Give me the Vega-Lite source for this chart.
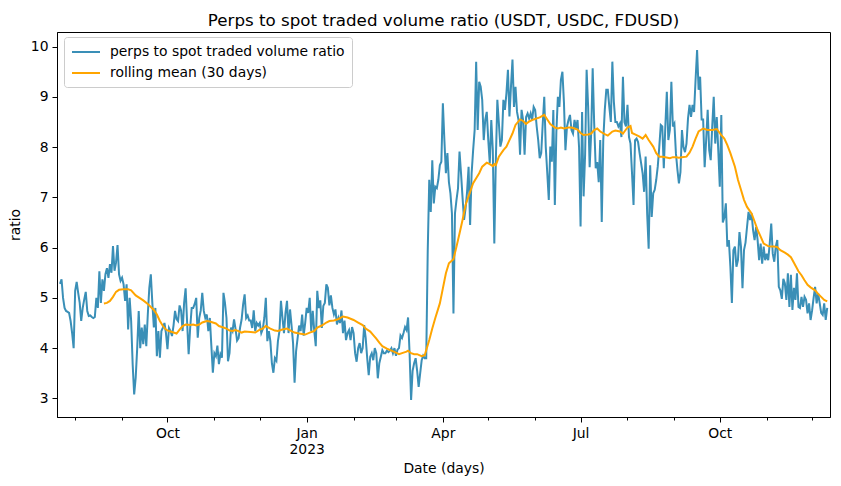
{
"$schema":"https://vega.github.io/schema/vega-lite/v6.json",
"width":773,"height":385,
"autosize":{"type":"none"},
"padding":{"left":57,"top":32,"right":11,"bottom":69},
"background":"white",
"title":{"text":"Perps to spot traded volume ratio (USDT, USDC, FDUSD)","font":"DejaVu Sans","fontSize":16.7,"fontWeight":"normal","color":"black","anchor":"middle","offset":8,"baseline":"alphabetic","dy":19},
"config":{"view":{"stroke":"black","strokeWidth":1},"font":"DejaVu Sans","axis":{"labelFont":"DejaVu Sans","titleFont":"DejaVu Sans"},"legend":{"labelFont":"DejaVu Sans"}},
"datasets":{
"ratio":[
{"date":"2022-07-22","ratio":5.28},{"date":"2022-07-23","ratio":5.37},{"date":"2022-07-24","ratio":5.0},{"date":"2022-07-25","ratio":4.8},{"date":"2022-07-26","ratio":4.74},{"date":"2022-07-27","ratio":4.72},{"date":"2022-07-28","ratio":4.7},{"date":"2022-07-29","ratio":4.54},{"date":"2022-07-30","ratio":4.3},{"date":"2022-07-31","ratio":4.0},
{"date":"2022-08-01","ratio":5.14},{"date":"2022-08-02","ratio":5.32},{"date":"2022-08-03","ratio":5.1},{"date":"2022-08-04","ratio":4.9},{"date":"2022-08-05","ratio":4.54},{"date":"2022-08-06","ratio":4.8},{"date":"2022-08-07","ratio":4.97},{"date":"2022-08-08","ratio":5.12},{"date":"2022-08-09","ratio":4.74},{"date":"2022-08-10","ratio":4.64},{"date":"2022-08-11","ratio":4.65},{"date":"2022-08-12","ratio":4.62},{"date":"2022-08-13","ratio":4.6},{"date":"2022-08-14","ratio":4.62},{"date":"2022-08-15","ratio":5.0},{"date":"2022-08-16","ratio":4.8},{"date":"2022-08-17","ratio":5.53},{"date":"2022-08-18","ratio":4.9},{"date":"2022-08-19","ratio":5.37},{"date":"2022-08-20","ratio":5.14},{"date":"2022-08-21","ratio":5.47},{"date":"2022-08-22","ratio":5.59},{"date":"2022-08-23","ratio":5.4},{"date":"2022-08-24","ratio":5.67},{"date":"2022-08-25","ratio":5.5},{"date":"2022-08-26","ratio":6.03},{"date":"2022-08-27","ratio":5.54},{"date":"2022-08-28","ratio":5.7},{"date":"2022-08-29","ratio":6.05},{"date":"2022-08-30","ratio":5.47},{"date":"2022-08-31","ratio":5.34},
{"date":"2022-09-01","ratio":5.4},{"date":"2022-09-02","ratio":5.27},{"date":"2022-09-03","ratio":4.94},{"date":"2022-09-04","ratio":5.27},{"date":"2022-09-05","ratio":4.37},{"date":"2022-09-06","ratio":5.0},{"date":"2022-09-07","ratio":4.54},{"date":"2022-09-08","ratio":3.68},{"date":"2022-09-09","ratio":3.08},{"date":"2022-09-10","ratio":3.41},{"date":"2022-09-11","ratio":4.0},{"date":"2022-09-12","ratio":4.74},{"date":"2022-09-13","ratio":4.0},{"date":"2022-09-14","ratio":4.41},{"date":"2022-09-15","ratio":4.08},{"date":"2022-09-16","ratio":4.47},{"date":"2022-09-17","ratio":4.04},{"date":"2022-09-18","ratio":4.67},{"date":"2022-09-19","ratio":5.2},{"date":"2022-09-20","ratio":5.47},{"date":"2022-09-21","ratio":4.9},{"date":"2022-09-22","ratio":4.41},{"date":"2022-09-23","ratio":4.8},{"date":"2022-09-24","ratio":3.84},{"date":"2022-09-25","ratio":4.34},{"date":"2022-09-26","ratio":3.81},{"date":"2022-09-27","ratio":4.34},{"date":"2022-09-28","ratio":4.41},{"date":"2022-09-29","ratio":4.5},{"date":"2022-09-30","ratio":4.3},
{"date":"2022-10-01","ratio":3.98},{"date":"2022-10-02","ratio":4.4},{"date":"2022-10-03","ratio":4.34},{"date":"2022-10-04","ratio":4.24},{"date":"2022-10-05","ratio":4.45},{"date":"2022-10-06","ratio":4.74},{"date":"2022-10-07","ratio":4.58},{"date":"2022-10-08","ratio":4.54},{"date":"2022-10-09","ratio":4.85},{"date":"2022-10-10","ratio":4.75},{"date":"2022-10-11","ratio":4.34},{"date":"2022-10-12","ratio":4.9},{"date":"2022-10-13","ratio":5.19},{"date":"2022-10-14","ratio":4.5},{"date":"2022-10-15","ratio":3.88},{"date":"2022-10-16","ratio":4.4},{"date":"2022-10-17","ratio":4.8},{"date":"2022-10-18","ratio":4.8},{"date":"2022-10-19","ratio":4.88},{"date":"2022-10-20","ratio":5.0},{"date":"2022-10-21","ratio":4.21},{"date":"2022-10-22","ratio":4.6},{"date":"2022-10-23","ratio":4.75},{"date":"2022-10-24","ratio":5.1},{"date":"2022-10-25","ratio":4.74},{"date":"2022-10-26","ratio":4.6},{"date":"2022-10-27","ratio":4.67},{"date":"2022-10-28","ratio":4.34},{"date":"2022-10-29","ratio":4.6},{"date":"2022-10-30","ratio":4.05},{"date":"2022-10-31","ratio":3.51},
{"date":"2022-11-01","ratio":3.9},{"date":"2022-11-02","ratio":3.84},{"date":"2022-11-03","ratio":4.05},{"date":"2022-11-04","ratio":3.68},{"date":"2022-11-05","ratio":3.88},{"date":"2022-11-06","ratio":3.81},{"date":"2022-11-07","ratio":5.1},{"date":"2022-11-08","ratio":4.9},{"date":"2022-11-09","ratio":4.6},{"date":"2022-11-10","ratio":3.74},{"date":"2022-11-11","ratio":3.9},{"date":"2022-11-12","ratio":4.41},{"date":"2022-11-13","ratio":4.34},{"date":"2022-11-14","ratio":4.57},{"date":"2022-11-15","ratio":4.38},{"date":"2022-11-16","ratio":4.15},{"date":"2022-11-17","ratio":4.2},{"date":"2022-11-18","ratio":4.41},{"date":"2022-11-19","ratio":4.57},{"date":"2022-11-20","ratio":4.87},{"date":"2022-11-21","ratio":5.07},{"date":"2022-11-22","ratio":4.6},{"date":"2022-11-23","ratio":4.65},{"date":"2022-11-24","ratio":4.55},{"date":"2022-11-25","ratio":4.55},{"date":"2022-11-26","ratio":4.4},{"date":"2022-11-27","ratio":4.75},{"date":"2022-11-28","ratio":4.34},{"date":"2022-11-29","ratio":4.5},{"date":"2022-11-30","ratio":4.45},
{"date":"2022-12-01","ratio":4.5},{"date":"2022-12-02","ratio":4.3},{"date":"2022-12-03","ratio":4.38},{"date":"2022-12-04","ratio":4.6},{"date":"2022-12-05","ratio":5.0},{"date":"2022-12-06","ratio":4.14},{"date":"2022-12-07","ratio":4.34},{"date":"2022-12-08","ratio":4.14},{"date":"2022-12-09","ratio":3.7},{"date":"2022-12-10","ratio":3.51},{"date":"2022-12-11","ratio":3.8},{"date":"2022-12-12","ratio":3.75},{"date":"2022-12-13","ratio":4.14},{"date":"2022-12-14","ratio":4.34},{"date":"2022-12-15","ratio":4.94},{"date":"2022-12-16","ratio":4.6},{"date":"2022-12-17","ratio":4.3},{"date":"2022-12-18","ratio":4.7},{"date":"2022-12-19","ratio":4.94},{"date":"2022-12-20","ratio":4.3},{"date":"2022-12-21","ratio":4.77},{"date":"2022-12-22","ratio":4.45},{"date":"2022-12-23","ratio":4.1},{"date":"2022-12-24","ratio":3.31},{"date":"2022-12-25","ratio":3.94},{"date":"2022-12-26","ratio":4.2},{"date":"2022-12-27","ratio":4.45},{"date":"2022-12-28","ratio":4.34},{"date":"2022-12-29","ratio":4.67},{"date":"2022-12-30","ratio":4.25},{"date":"2022-12-31","ratio":4.5},
{"date":"2023-01-01","ratio":4.8},{"date":"2023-01-02","ratio":4.7},{"date":"2023-01-03","ratio":5.0},{"date":"2023-01-04","ratio":4.34},{"date":"2023-01-05","ratio":4.74},{"date":"2023-01-06","ratio":4.35},{"date":"2023-01-07","ratio":4.04},{"date":"2023-01-08","ratio":5.14},{"date":"2023-01-09","ratio":4.8},{"date":"2023-01-10","ratio":4.95},{"date":"2023-01-11","ratio":4.4},{"date":"2023-01-12","ratio":4.84},{"date":"2023-01-13","ratio":4.9},{"date":"2023-01-14","ratio":5.27},{"date":"2023-01-15","ratio":5.2},{"date":"2023-01-16","ratio":4.85},{"date":"2023-01-17","ratio":5.05},{"date":"2023-01-18","ratio":4.8},{"date":"2023-01-19","ratio":4.67},{"date":"2023-01-20","ratio":4.77},{"date":"2023-01-21","ratio":4.47},{"date":"2023-01-22","ratio":4.6},{"date":"2023-01-23","ratio":4.5},{"date":"2023-01-24","ratio":4.75},{"date":"2023-01-25","ratio":4.3},{"date":"2023-01-26","ratio":4.55},{"date":"2023-01-27","ratio":4.16},{"date":"2023-01-28","ratio":4.3},{"date":"2023-01-29","ratio":4.36},{"date":"2023-01-30","ratio":4.16},{"date":"2023-01-31","ratio":4.42},
{"date":"2023-02-01","ratio":4.3},{"date":"2023-02-02","ratio":3.9},{"date":"2023-02-03","ratio":3.73},{"date":"2023-02-04","ratio":4.0},{"date":"2023-02-05","ratio":4.1},{"date":"2023-02-06","ratio":3.9},{"date":"2023-02-07","ratio":4.0},{"date":"2023-02-08","ratio":4.46},{"date":"2023-02-09","ratio":4.2},{"date":"2023-02-10","ratio":3.8},{"date":"2023-02-11","ratio":3.46},{"date":"2023-02-12","ratio":3.83},{"date":"2023-02-13","ratio":3.9},{"date":"2023-02-14","ratio":3.76},{"date":"2023-02-15","ratio":4.0},{"date":"2023-02-16","ratio":3.9},{"date":"2023-02-17","ratio":3.4},{"date":"2023-02-18","ratio":3.7},{"date":"2023-02-19","ratio":3.83},{"date":"2023-02-20","ratio":3.96},{"date":"2023-02-21","ratio":3.9},{"date":"2023-02-22","ratio":3.9},{"date":"2023-02-23","ratio":3.95},{"date":"2023-02-24","ratio":3.92},{"date":"2023-02-25","ratio":3.95},{"date":"2023-02-26","ratio":4.0},{"date":"2023-02-27","ratio":3.9},{"date":"2023-02-28","ratio":4.0},
{"date":"2023-03-01","ratio":3.85},{"date":"2023-03-02","ratio":3.97},{"date":"2023-03-03","ratio":4.0},{"date":"2023-03-04","ratio":4.25},{"date":"2023-03-05","ratio":4.2},{"date":"2023-03-06","ratio":4.3},{"date":"2023-03-07","ratio":4.42},{"date":"2023-03-08","ratio":4.36},{"date":"2023-03-09","ratio":4.61},{"date":"2023-03-10","ratio":3.9},{"date":"2023-03-11","ratio":2.97},{"date":"2023-03-12","ratio":3.55},{"date":"2023-03-13","ratio":3.7},{"date":"2023-03-14","ratio":3.8},{"date":"2023-03-15","ratio":3.55},{"date":"2023-03-16","ratio":3.23},{"date":"2023-03-17","ratio":3.5},{"date":"2023-03-18","ratio":3.76},{"date":"2023-03-19","ratio":3.85},{"date":"2023-03-20","ratio":3.8},{"date":"2023-03-21","ratio":3.8},{"date":"2023-03-22","ratio":5.94},{"date":"2023-03-23","ratio":7.35},{"date":"2023-03-24","ratio":6.71},{"date":"2023-03-25","ratio":7.74},{"date":"2023-03-26","ratio":6.88},{"date":"2023-03-27","ratio":7.21},{"date":"2023-03-28","ratio":7.18},{"date":"2023-03-29","ratio":7.35},{"date":"2023-03-30","ratio":7.64},{"date":"2023-03-31","ratio":7.71},
{"date":"2023-04-01","ratio":8.87},{"date":"2023-04-02","ratio":8.14},{"date":"2023-04-03","ratio":7.48},{"date":"2023-04-04","ratio":7.88},{"date":"2023-04-05","ratio":7.3},{"date":"2023-04-06","ratio":7.08},{"date":"2023-04-07","ratio":6.68},{"date":"2023-04-08","ratio":4.69},{"date":"2023-04-09","ratio":6.68},{"date":"2023-04-10","ratio":6.95},{"date":"2023-04-11","ratio":7.18},{"date":"2023-04-12","ratio":7.91},{"date":"2023-04-13","ratio":7.48},{"date":"2023-04-14","ratio":7.0},{"date":"2023-04-15","ratio":6.55},{"date":"2023-04-16","ratio":6.78},{"date":"2023-04-17","ratio":7.11},{"date":"2023-04-18","ratio":7.61},{"date":"2023-04-19","ratio":6.45},{"date":"2023-04-20","ratio":7.48},{"date":"2023-04-21","ratio":7.94},{"date":"2023-04-22","ratio":8.34},{"date":"2023-04-23","ratio":9.7},{"date":"2023-04-24","ratio":8.34},{"date":"2023-04-25","ratio":9.3},{"date":"2023-04-26","ratio":9.2},{"date":"2023-04-27","ratio":8.94},{"date":"2023-04-28","ratio":8.14},{"date":"2023-04-29","ratio":8.54},{"date":"2023-04-30","ratio":8.7},
{"date":"2023-05-01","ratio":8.14},{"date":"2023-05-02","ratio":7.68},{"date":"2023-05-03","ratio":8.54},{"date":"2023-05-04","ratio":7.94},{"date":"2023-05-05","ratio":6.08},{"date":"2023-05-06","ratio":7.74},{"date":"2023-05-07","ratio":8.94},{"date":"2023-05-08","ratio":8.48},{"date":"2023-05-09","ratio":8.01},{"date":"2023-05-10","ratio":8.14},{"date":"2023-05-11","ratio":8.94},{"date":"2023-05-12","ratio":8.74},{"date":"2023-05-13","ratio":9.07},{"date":"2023-05-14","ratio":9.54},{"date":"2023-05-15","ratio":8.61},{"date":"2023-05-16","ratio":9.2},{"date":"2023-05-17","ratio":9.74},{"date":"2023-05-18","ratio":8.8},{"date":"2023-05-19","ratio":9.2},{"date":"2023-05-20","ratio":8.7},{"date":"2023-05-21","ratio":8.54},{"date":"2023-05-22","ratio":7.85},{"date":"2023-05-23","ratio":8.74},{"date":"2023-05-24","ratio":8.54},{"date":"2023-05-25","ratio":7.85},{"date":"2023-05-26","ratio":8.6},{"date":"2023-05-27","ratio":8.67},{"date":"2023-05-28","ratio":8.57},{"date":"2023-05-29","ratio":8.67},{"date":"2023-05-30","ratio":8.54},{"date":"2023-05-31","ratio":8.8},
{"date":"2023-06-01","ratio":8.74},{"date":"2023-06-02","ratio":8.41},{"date":"2023-06-03","ratio":8.14},{"date":"2023-06-04","ratio":7.78},{"date":"2023-06-05","ratio":7.88},{"date":"2023-06-06","ratio":8.47},{"date":"2023-06-07","ratio":9.0},{"date":"2023-06-08","ratio":8.0},{"date":"2023-06-09","ratio":7.48},{"date":"2023-06-10","ratio":6.95},{"date":"2023-06-11","ratio":8.01},{"date":"2023-06-12","ratio":7.71},{"date":"2023-06-13","ratio":8.74},{"date":"2023-06-14","ratio":6.85},{"date":"2023-06-15","ratio":8.3},{"date":"2023-06-16","ratio":9.0},{"date":"2023-06-17","ratio":8.8},{"date":"2023-06-18","ratio":9.34},{"date":"2023-06-19","ratio":9.5},{"date":"2023-06-20","ratio":8.9},{"date":"2023-06-21","ratio":7.94},{"date":"2023-06-22","ratio":8.4},{"date":"2023-06-23","ratio":8.54},{"date":"2023-06-24","ratio":8.64},{"date":"2023-06-25","ratio":8.34},{"date":"2023-06-26","ratio":8.27},{"date":"2023-06-27","ratio":8.54},{"date":"2023-06-28","ratio":8.37},{"date":"2023-06-29","ratio":8.54},{"date":"2023-06-30","ratio":8.0},
{"date":"2023-07-01","ratio":6.42},{"date":"2023-07-02","ratio":8.7},{"date":"2023-07-03","ratio":7.02},{"date":"2023-07-04","ratio":7.85},{"date":"2023-07-05","ratio":9.54},{"date":"2023-07-06","ratio":8.8},{"date":"2023-07-07","ratio":7.6},{"date":"2023-07-08","ratio":8.27},{"date":"2023-07-09","ratio":9.57},{"date":"2023-07-10","ratio":8.47},{"date":"2023-07-11","ratio":7.58},{"date":"2023-07-12","ratio":7.7},{"date":"2023-07-13","ratio":7.3},{"date":"2023-07-14","ratio":8.14},{"date":"2023-07-15","ratio":6.51},{"date":"2023-07-16","ratio":8.14},{"date":"2023-07-17","ratio":8.74},{"date":"2023-07-18","ratio":9.14},{"date":"2023-07-19","ratio":9.14},{"date":"2023-07-20","ratio":8.8},{"date":"2023-07-21","ratio":8.5},{"date":"2023-07-22","ratio":9.7},{"date":"2023-07-23","ratio":8.9},{"date":"2023-07-24","ratio":8.5},{"date":"2023-07-25","ratio":8.5},{"date":"2023-07-26","ratio":8.41},{"date":"2023-07-27","ratio":8.47},{"date":"2023-07-28","ratio":8.2},{"date":"2023-07-29","ratio":9.4},{"date":"2023-07-30","ratio":8.5},{"date":"2023-07-31","ratio":8.41},
{"date":"2023-08-01","ratio":8.84},{"date":"2023-08-02","ratio":8.2},{"date":"2023-08-03","ratio":8.07},{"date":"2023-08-04","ratio":7.48},{"date":"2023-08-05","ratio":6.85},{"date":"2023-08-06","ratio":8.14},{"date":"2023-08-07","ratio":8.17},{"date":"2023-08-08","ratio":8.1},{"date":"2023-08-09","ratio":7.88},{"date":"2023-08-10","ratio":7.68},{"date":"2023-08-11","ratio":7.48},{"date":"2023-08-12","ratio":7.11},{"date":"2023-08-13","ratio":7.81},{"date":"2023-08-14","ratio":6.68},{"date":"2023-08-15","ratio":5.98},{"date":"2023-08-16","ratio":7.64},{"date":"2023-08-17","ratio":6.61},{"date":"2023-08-18","ratio":7.08},{"date":"2023-08-19","ratio":7.15},{"date":"2023-08-20","ratio":7.35},{"date":"2023-08-21","ratio":7.61},{"date":"2023-08-22","ratio":8.0},{"date":"2023-08-23","ratio":8.44},{"date":"2023-08-24","ratio":8.41},{"date":"2023-08-25","ratio":7.58},{"date":"2023-08-26","ratio":8.41},{"date":"2023-08-27","ratio":9.1},{"date":"2023-08-28","ratio":8.14},{"date":"2023-08-29","ratio":8.34},{"date":"2023-08-30","ratio":9.3},{"date":"2023-08-31","ratio":8.41},
{"date":"2023-09-01","ratio":8.47},{"date":"2023-09-02","ratio":7.88},{"date":"2023-09-03","ratio":7.55},{"date":"2023-09-04","ratio":7.28},{"date":"2023-09-05","ratio":7.5},{"date":"2023-09-06","ratio":8.34},{"date":"2023-09-07","ratio":8.0},{"date":"2023-09-08","ratio":7.9},{"date":"2023-09-09","ratio":8.07},{"date":"2023-09-10","ratio":8.57},{"date":"2023-09-11","ratio":8.84},{"date":"2023-09-12","ratio":8.6},{"date":"2023-09-13","ratio":8.84},{"date":"2023-09-14","ratio":8.7},{"date":"2023-09-15","ratio":9.34},{"date":"2023-09-16","ratio":9.93},{"date":"2023-09-17","ratio":9.14},{"date":"2023-09-18","ratio":9.4},{"date":"2023-09-19","ratio":8.55},{"date":"2023-09-20","ratio":8.55},{"date":"2023-09-21","ratio":7.6},{"date":"2023-09-22","ratio":8.14},{"date":"2023-09-23","ratio":8.74},{"date":"2023-09-24","ratio":7.94},{"date":"2023-09-25","ratio":7.74},{"date":"2023-09-26","ratio":8.41},{"date":"2023-09-27","ratio":9.0},{"date":"2023-09-28","ratio":8.07},{"date":"2023-09-29","ratio":8.6},{"date":"2023-09-30","ratio":7.94},
{"date":"2023-10-01","ratio":7.21},{"date":"2023-10-02","ratio":8.64},{"date":"2023-10-03","ratio":6.5},{"date":"2023-10-04","ratio":6.6},{"date":"2023-10-05","ratio":6.88},{"date":"2023-10-06","ratio":6.02},{"date":"2023-10-07","ratio":6.15},{"date":"2023-10-08","ratio":5.62},{"date":"2023-10-09","ratio":4.9},{"date":"2023-10-10","ratio":5.95},{"date":"2023-10-11","ratio":6.02},{"date":"2023-10-12","ratio":5.62},{"date":"2023-10-13","ratio":5.75},{"date":"2023-10-14","ratio":6.31},{"date":"2023-10-15","ratio":6.02},{"date":"2023-10-16","ratio":5.19},{"date":"2023-10-17","ratio":5.95},{"date":"2023-10-18","ratio":6.1},{"date":"2023-10-19","ratio":6.41},{"date":"2023-10-20","ratio":6.71},{"date":"2023-10-21","ratio":6.55},{"date":"2023-10-22","ratio":6.68},{"date":"2023-10-23","ratio":6.35},{"date":"2023-10-24","ratio":6.15},{"date":"2023-10-25","ratio":6.41},{"date":"2023-10-26","ratio":6.15},{"date":"2023-10-27","ratio":5.75},{"date":"2023-10-28","ratio":6.08},{"date":"2023-10-29","ratio":5.68},{"date":"2023-10-30","ratio":6.02},{"date":"2023-10-31","ratio":5.75},
{"date":"2023-11-01","ratio":5.88},{"date":"2023-11-02","ratio":5.75},{"date":"2023-11-03","ratio":6.08},{"date":"2023-11-04","ratio":6.48},{"date":"2023-11-05","ratio":5.88},{"date":"2023-11-06","ratio":5.72},{"date":"2023-11-07","ratio":6.02},{"date":"2023-11-08","ratio":6.15},{"date":"2023-11-09","ratio":5.22},{"date":"2023-11-10","ratio":5.15},{"date":"2023-11-11","ratio":4.98},{"date":"2023-11-12","ratio":5.38},{"date":"2023-11-13","ratio":5.29},{"date":"2023-11-14","ratio":4.96},{"date":"2023-11-15","ratio":5.49},{"date":"2023-11-16","ratio":4.82},{"date":"2023-11-17","ratio":5.46},{"date":"2023-11-18","ratio":4.76},{"date":"2023-11-19","ratio":5.2},{"date":"2023-11-20","ratio":4.96},{"date":"2023-11-21","ratio":5.49},{"date":"2023-11-22","ratio":4.82},{"date":"2023-11-23","ratio":4.8},{"date":"2023-11-24","ratio":5.02},{"date":"2023-11-25","ratio":4.82},{"date":"2023-11-26","ratio":5.02},{"date":"2023-11-27","ratio":4.96},{"date":"2023-11-28","ratio":4.69},{"date":"2023-11-29","ratio":4.89},{"date":"2023-11-30","ratio":4.56},
{"date":"2023-12-01","ratio":4.75},{"date":"2023-12-02","ratio":5.0},{"date":"2023-12-03","ratio":5.22},{"date":"2023-12-04","ratio":4.89},{"date":"2023-12-05","ratio":5.09},{"date":"2023-12-06","ratio":4.9},{"date":"2023-12-07","ratio":4.7},{"date":"2023-12-08","ratio":4.66},{"date":"2023-12-09","ratio":4.89},{"date":"2023-12-10","ratio":4.56},{"date":"2023-12-11","ratio":4.8}
],
"rolling":[
{"date":"2022-08-20","mean":4.89},{"date":"2022-08-22","mean":4.9},{"date":"2022-08-24","mean":4.94},{"date":"2022-08-26","mean":5.02},{"date":"2022-08-28","mean":5.12},{"date":"2022-08-30","mean":5.16},{"date":"2022-09-02","mean":5.17},{"date":"2022-09-05","mean":5.17},{"date":"2022-09-07","mean":5.15},{"date":"2022-09-10","mean":5.05},{"date":"2022-09-13","mean":4.99},{"date":"2022-09-15","mean":4.95},{"date":"2022-09-18","mean":4.88},{"date":"2022-09-20","mean":4.82},{"date":"2022-09-22","mean":4.76},{"date":"2022-09-24","mean":4.67},{"date":"2022-09-26","mean":4.54},{"date":"2022-09-28","mean":4.44},{"date":"2022-09-30","mean":4.37},
{"date":"2022-10-02","mean":4.34},{"date":"2022-10-05","mean":4.31},{"date":"2022-10-07","mean":4.29},{"date":"2022-10-09","mean":4.37},{"date":"2022-10-11","mean":4.44},{"date":"2022-10-13","mean":4.47},{"date":"2022-10-16","mean":4.46},{"date":"2022-10-18","mean":4.47},{"date":"2022-10-20","mean":4.45},{"date":"2022-10-22","mean":4.47},{"date":"2022-10-24","mean":4.51},{"date":"2022-10-27","mean":4.54},{"date":"2022-10-29","mean":4.53},{"date":"2022-10-31","mean":4.51},
{"date":"2022-11-02","mean":4.49},{"date":"2022-11-04","mean":4.44},{"date":"2022-11-07","mean":4.41},{"date":"2022-11-09","mean":4.39},{"date":"2022-11-11","mean":4.35},{"date":"2022-11-13","mean":4.34},{"date":"2022-11-15","mean":4.36},{"date":"2022-11-17","mean":4.34},{"date":"2022-11-19","mean":4.31},{"date":"2022-11-21","mean":4.33},{"date":"2022-11-25","mean":4.32},{"date":"2022-11-28","mean":4.31},
{"date":"2022-12-01","mean":4.37},{"date":"2022-12-03","mean":4.39},{"date":"2022-12-05","mean":4.44},{"date":"2022-12-08","mean":4.39},{"date":"2022-12-11","mean":4.35},{"date":"2022-12-13","mean":4.34},{"date":"2022-12-16","mean":4.37},{"date":"2022-12-19","mean":4.39},{"date":"2022-12-22","mean":4.34},{"date":"2022-12-24","mean":4.31},{"date":"2022-12-27","mean":4.29},{"date":"2022-12-31","mean":4.27},
{"date":"2023-01-03","mean":4.31},{"date":"2023-01-06","mean":4.34},{"date":"2023-01-08","mean":4.41},{"date":"2023-01-11","mean":4.45},{"date":"2023-01-14","mean":4.51},{"date":"2023-01-16","mean":4.54},{"date":"2023-01-19","mean":4.55},{"date":"2023-01-22","mean":4.58},{"date":"2023-01-25","mean":4.63},{"date":"2023-01-28","mean":4.61},
{"date":"2023-02-01","mean":4.56},{"date":"2023-02-04","mean":4.51},{"date":"2023-02-07","mean":4.46},{"date":"2023-02-09","mean":4.39},{"date":"2023-02-12","mean":4.33},{"date":"2023-02-14","mean":4.26},{"date":"2023-02-16","mean":4.19},{"date":"2023-02-18","mean":4.11},{"date":"2023-02-20","mean":4.04},{"date":"2023-02-23","mean":3.99},{"date":"2023-02-26","mean":3.95},
{"date":"2023-03-01","mean":3.91},{"date":"2023-03-03","mean":3.88},{"date":"2023-03-06","mean":3.91},{"date":"2023-03-08","mean":3.93},{"date":"2023-03-09","mean":3.95},{"date":"2023-03-11","mean":3.9},{"date":"2023-03-13","mean":3.88},{"date":"2023-03-15","mean":3.88},{"date":"2023-03-18","mean":3.84},{"date":"2023-03-20","mean":3.86},{"date":"2023-03-21","mean":3.96},{"date":"2023-03-23","mean":4.16},{"date":"2023-03-25","mean":4.39},{"date":"2023-03-27","mean":4.6},{"date":"2023-03-30","mean":4.89},
{"date":"2023-04-01","mean":5.19},{"date":"2023-04-03","mean":5.49},{"date":"2023-04-05","mean":5.69},{"date":"2023-04-08","mean":5.77},{"date":"2023-04-10","mean":6.02},{"date":"2023-04-12","mean":6.28},{"date":"2023-04-14","mean":6.55},{"date":"2023-04-16","mean":6.85},{"date":"2023-04-19","mean":7.11},{"date":"2023-04-21","mean":7.28},{"date":"2023-04-23","mean":7.38},{"date":"2023-04-25","mean":7.48},{"date":"2023-04-27","mean":7.61},{"date":"2023-04-30","mean":7.69},
{"date":"2023-05-02","mean":7.66},{"date":"2023-05-04","mean":7.62},{"date":"2023-05-05","mean":7.66},{"date":"2023-05-06","mean":7.64},{"date":"2023-05-08","mean":7.81},{"date":"2023-05-11","mean":7.94},{"date":"2023-05-13","mean":8.01},{"date":"2023-05-15","mean":8.14},{"date":"2023-05-17","mean":8.27},{"date":"2023-05-19","mean":8.44},{"date":"2023-05-22","mean":8.55},{"date":"2023-05-24","mean":8.52},{"date":"2023-05-26","mean":8.46},{"date":"2023-05-28","mean":8.51},{"date":"2023-05-31","mean":8.55},
{"date":"2023-06-04","mean":8.59},{"date":"2023-06-07","mean":8.64},{"date":"2023-06-09","mean":8.55},{"date":"2023-06-11","mean":8.46},{"date":"2023-06-14","mean":8.39},{"date":"2023-06-16","mean":8.37},{"date":"2023-06-18","mean":8.39},{"date":"2023-06-20","mean":8.37},{"date":"2023-06-23","mean":8.39},{"date":"2023-06-25","mean":8.39},{"date":"2023-06-27","mean":8.37},{"date":"2023-06-29","mean":8.35},
{"date":"2023-07-01","mean":8.28},{"date":"2023-07-03","mean":8.24},{"date":"2023-07-06","mean":8.25},{"date":"2023-07-08","mean":8.27},{"date":"2023-07-10","mean":8.34},{"date":"2023-07-12","mean":8.37},{"date":"2023-07-14","mean":8.31},{"date":"2023-07-17","mean":8.26},{"date":"2023-07-19","mean":8.23},{"date":"2023-07-22","mean":8.31},{"date":"2023-07-24","mean":8.33},{"date":"2023-07-27","mean":8.31},{"date":"2023-07-29","mean":8.27},{"date":"2023-07-31","mean":8.35},
{"date":"2023-08-01","mean":8.39},{"date":"2023-08-03","mean":8.42},{"date":"2023-08-04","mean":8.28},{"date":"2023-08-07","mean":8.24},{"date":"2023-08-09","mean":8.21},{"date":"2023-08-11","mean":8.17},{"date":"2023-08-13","mean":8.24},{"date":"2023-08-15","mean":8.14},{"date":"2023-08-18","mean":8.01},{"date":"2023-08-20","mean":7.88},{"date":"2023-08-22","mean":7.81},{"date":"2023-08-24","mean":7.81},{"date":"2023-08-26","mean":7.8},{"date":"2023-08-29","mean":7.78},{"date":"2023-08-31","mean":7.8},
{"date":"2023-09-02","mean":7.8},{"date":"2023-09-04","mean":7.79},{"date":"2023-09-06","mean":7.8},{"date":"2023-09-09","mean":7.81},{"date":"2023-09-11","mean":7.89},{"date":"2023-09-13","mean":8.01},{"date":"2023-09-15","mean":8.17},{"date":"2023-09-17","mean":8.31},{"date":"2023-09-20","mean":8.37},{"date":"2023-09-23","mean":8.34},{"date":"2023-09-26","mean":8.34},{"date":"2023-09-29","mean":8.36},
{"date":"2023-10-02","mean":8.24},{"date":"2023-10-04","mean":8.17},{"date":"2023-10-06","mean":8.04},{"date":"2023-10-08","mean":7.88},{"date":"2023-10-11","mean":7.61},{"date":"2023-10-13","mean":7.35},{"date":"2023-10-15","mean":7.15},{"date":"2023-10-17","mean":6.95},{"date":"2023-10-19","mean":6.81},{"date":"2023-10-22","mean":6.68},{"date":"2023-10-24","mean":6.52},{"date":"2023-10-26","mean":6.35},{"date":"2023-10-28","mean":6.22},{"date":"2023-10-30","mean":6.08},
{"date":"2023-11-02","mean":6.03},{"date":"2023-11-04","mean":6.02},{"date":"2023-11-06","mean":6.02},{"date":"2023-11-08","mean":6.01},{"date":"2023-11-10","mean":5.95},{"date":"2023-11-13","mean":5.9},{"date":"2023-11-15","mean":5.86},{"date":"2023-11-17","mean":5.81},{"date":"2023-11-19","mean":5.7},{"date":"2023-11-22","mean":5.53},{"date":"2023-11-24","mean":5.45},{"date":"2023-11-26","mean":5.35},{"date":"2023-11-28","mean":5.26},{"date":"2023-11-30","mean":5.21},
{"date":"2023-12-03","mean":5.15},{"date":"2023-12-05","mean":5.08},{"date":"2023-12-07","mean":5.02},{"date":"2023-12-09","mean":4.96},{"date":"2023-12-11","mean":4.93}
]
},
"layer":[
{"data":{"name":"ratio"},
 "mark":{"type":"line","strokeWidth":2,"clip":true},
 "encoding":{
  "x":{"field":"date","type":"temporal",
   "scale":{"type":"utc","domain":[{"year":2022,"month":7,"date":20,"utc":true},{"year":2023,"month":12,"date":12,"hours":20,"utc":true}]},
   "axis":{"title":"Date (days)","grid":false,
    "values":[{"year":2022,"month":8,"date":1,"utc":true},{"year":2022,"month":9,"date":1,"utc":true},{"year":2022,"month":10,"date":1,"utc":true},{"year":2022,"month":11,"date":1,"utc":true},{"year":2022,"month":12,"date":1,"utc":true},{"year":2023,"month":1,"date":1,"utc":true},{"year":2023,"month":2,"date":1,"utc":true},{"year":2023,"month":3,"date":1,"utc":true},{"year":2023,"month":4,"date":1,"utc":true},{"year":2023,"month":5,"date":1,"utc":true},{"year":2023,"month":6,"date":1,"utc":true},{"year":2023,"month":7,"date":1,"utc":true},{"year":2023,"month":8,"date":1,"utc":true},{"year":2023,"month":9,"date":1,"utc":true},{"year":2023,"month":10,"date":1,"utc":true},{"year":2023,"month":11,"date":1,"utc":true},{"year":2023,"month":12,"date":1,"utc":true}],
    "labelExpr":"utcmonth(datum.value) == 0 ? [utcFormat(datum.value, '%b'), utcFormat(datum.value, '%Y')] : (utcmonth(datum.value) % 3 == 0 ? utcFormat(datum.value, '%b') : '')",
    "labelFlush":false,"labelOverlap":false,"labelAlign":"center","labelBaseline":"top","labelPadding":4,"labelLineHeight":16,
    "tickSize":{"condition":{"test":"utcmonth(datum.value) % 3 == 0","value":5},"value":3},
    "tickColor":"black","tickWidth":1,"domainColor":"black","domainWidth":1,"labelColor":"black","labelFontSize":13.9,
    "titleFontSize":13.9,"titleFontWeight":"normal","titleColor":"black","titlePadding":6}},
  "y":{"field":"ratio","type":"quantitative",
   "scale":{"domain":[2.63,10.29],"nice":false,"zero":false},
   "axis":{"title":"ratio","grid":false,"values":[3,4,5,6,7,8,9,10],"tickSize":5,"tickColor":"black","tickWidth":1,"domainColor":"black","domainWidth":1,"labelColor":"black","labelFontSize":13.9,"labelPadding":4,"titleFontSize":13.9,"titleFontWeight":"normal","titleColor":"black","titlePadding":8}},
  "color":{"datum":"perps to spot traded volume ratio","type":"nominal",
   "scale":{"domain":["perps to spot traded volume ratio","rolling mean (30 days)"],"range":["#3a8fb7","#ffa500"]},
   "legend":{"orient":"none","legendX":7,"legendY":5,"title":null,"symbolType":"M-1,0H3","symbolSize":196,"symbolStrokeWidth":2,"labelFontSize":13.9,"labelColor":"black","labelOffset":23,"labelLimit":400,"rowPadding":6,"padding":7,"strokeColor":"#cccccc","fillColor":"rgba(255,255,255,0.8)","cornerRadius":3}}
 }},
{"data":{"name":"rolling"},
 "mark":{"type":"line","strokeWidth":2,"clip":true},
 "encoding":{
  "x":{"field":"date","type":"temporal"},
  "y":{"field":"mean","type":"quantitative","axis":{"title":"ratio"}},
  "color":{"datum":"rolling mean (30 days)","type":"nominal"}
 }}
]
}
